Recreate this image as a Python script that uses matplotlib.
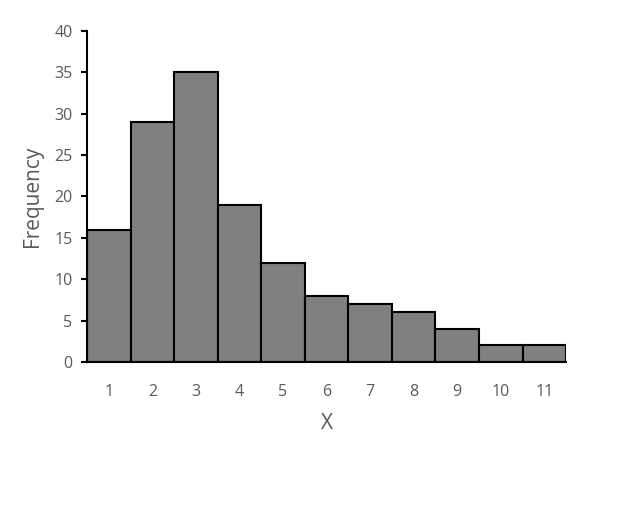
import matplotlib
matplotlib.use('Agg')
import matplotlib.pyplot as plt

# Histogram data
x_values = [1, 2, 3, 4, 5, 6, 7, 8, 9, 10, 11]
frequency = [16, 29, 35, 19, 12, 8, 7, 6, 4, 2, 2]
y_ticks = [0, 5, 10, 15, 20, 25, 30, 35, 40]

plt.rcParams['font.family'] = ['Open Sans', 'DejaVu Sans']

fig = plt.figure(figsize=(6.44, 5.12), dpi=100)
ax = fig.add_axes([0.1351, 0.293, 0.744, 0.6465])

ax.bar(x_values, frequency, width=1.0, color='#808080', edgecolor='black', linewidth=1.5)

ax.set_xlim(0.5, 11.5)
ax.set_ylim(0, 40)
ax.set_xticks(x_values)
ax.set_yticks(y_ticks)

for side in ['top', 'right']:
    ax.spines[side].set_visible(False)
ax.spines['left'].set_linewidth(1.5)
ax.spines['bottom'].set_linewidth(1.5)

ax.tick_params(axis='y', length=4.5, width=1.5, colors='black', labelcolor='#595959', labelsize=11.5, pad=6)
ax.tick_params(axis='x', length=0, labelcolor='#595959', labelsize=11.5, pad=16)

ax.set_xlabel('X', fontsize=15, color='#595959', labelpad=9)
ax.set_ylabel('Frequency', fontsize=15, color='#595959', labelpad=8)

fig.savefig('out.png', dpi=100)
